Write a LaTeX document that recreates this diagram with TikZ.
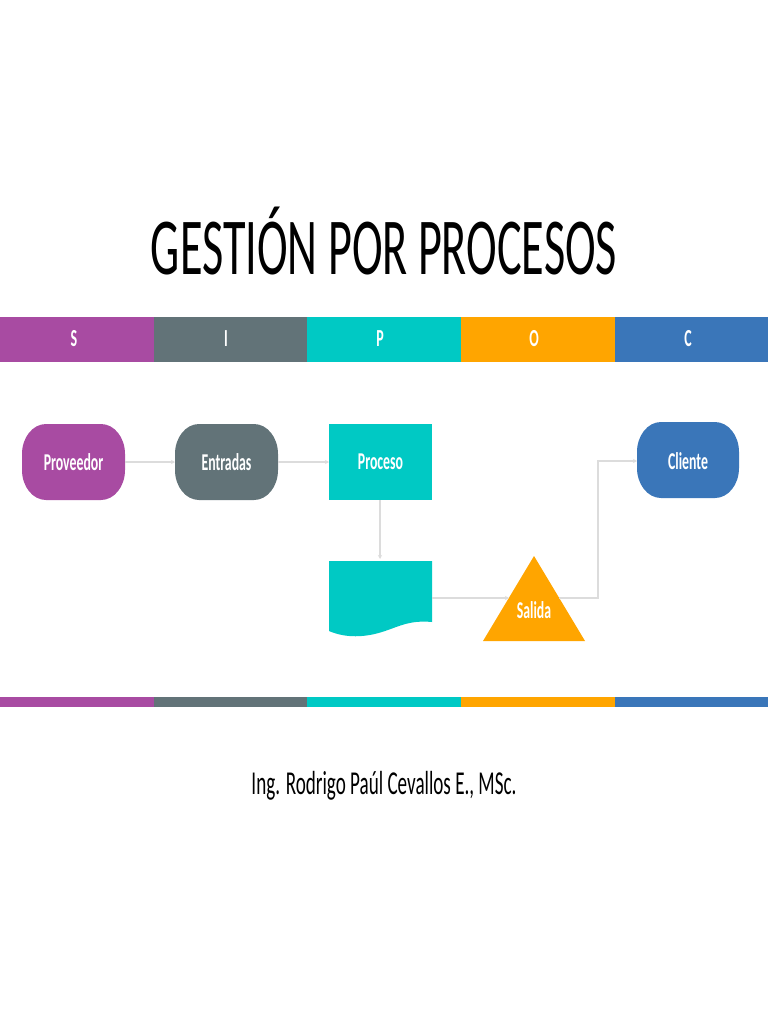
\documentclass[tikz,border=0pt]{standalone}
\usepackage{fontspec}
\setmainfont{Carlito}
\usetikzlibrary{arrows.meta}
\definecolor{cS}{HTML}{A84BA2}
\definecolor{cI}{HTML}{627378}
\definecolor{cP}{HTML}{00C9C4}
\definecolor{cO}{HTML}{FFA500}
\definecolor{cC}{HTML}{3A76B9}
\definecolor{lineg}{HTML}{DCDCDC}
\newcommand{\tall}[1]{\scalebox{1}[1.75]{#1}}
% elliptical-corner stadium: colour, x1, y1, x2, y2
\newcommand{\stadiumshape}[5]{%
  \fill[#1] ({#2+24},#3) -- ({#4-24},#3)
    .. controls ({#4-24+13.25},#3) and (#4,{#3+30-16.57}) .. (#4,{#3+30})
    -- (#4,{#5-30})
    .. controls (#4,{#5-30+16.57}) and ({#4-24+13.25},#5) .. ({#4-24},#5)
    -- ({#2+24},#5)
    .. controls ({#2+24-13.25},#5) and (#2,{#5-30+16.57}) .. (#2,{#5-30})
    -- (#2,{#3+30})
    .. controls (#2,{#3+30-16.57}) and ({#2+24-13.25},#3) .. cycle;}
\tikzset{
  lbl/.style={text=white, font=\fontsize{14}{14}\selectfont\bfseries},
  conn/.style={draw=lineg, line width=1.4pt, -{Stealth[length=4pt,width=4pt]}},
  nlabel/.style={text=white, inner sep=0pt, font=\fontsize{13.8}{14}\selectfont\bfseries},
}
\begin{document}
\begin{tikzpicture}[x=1pt,y=-1pt]
\useasboundingbox[fill=white] (0,0) rectangle (768,1024);
% title
\node[font=\fontsize{46.2}{46}\selectfont] (title) at (384,241) {\tall{GESTIÓN POR PROCESOS}};
% top band
\fill[cS] (0,317) rectangle (154,362);
\fill[cI] (154,317) rectangle (307,362);
\fill[cP] (307,317) rectangle (461,362);
\fill[cO] (461,317) rectangle (615,362);
\fill[cC] (615,317) rectangle (768,362);
\node[lbl] (bS) at (74,339) {\tall{S}};
\node[lbl] (bI) at (226,339) {\tall{I}};
\node[lbl] (bP) at (380,339) {\tall{P}};
\node[lbl] (bO) at (534,339) {\tall{O}};
\node[lbl] (bC) at (688,339) {\tall{C}};
% bottom band
\fill[cS] (0,697) rectangle (154,707);
\fill[cI] (154,697) rectangle (307,707);
\fill[cP] (307,697) rectangle (461,707);
\fill[cO] (461,697) rectangle (615,707);
\fill[cC] (615,697) rectangle (768,707);
% shapes
\stadiumshape{cS}{22}{424}{125}{500}
\stadiumshape{cI}{175}{424}{278}{500}
\fill[cP] (329,424) rectangle (432,500);
\stadiumshape{cC}{637}{422}{739}{498}
\node[nlabel] (prov) at (73.5,462) {\tall{Proveedor}};
\node[nlabel] (entr) at (226.5,462) {\tall{Entradas}};
\node[nlabel] (proc) at (380.5,462) {\tall{Proceso}};
\node[nlabel] (clie) at (688,461) {\tall{Cliente}};
\coordinate (provE) at (125,462);
\coordinate (entrW) at (175,462);
\coordinate (entrE) at (278,462);
\coordinate (procW) at (329,462);
\coordinate (procS) at (380,500);
\coordinate (docN) at (380,559);
\coordinate (docE) at (432,598);
\coordinate (salW) at (509,598);
\coordinate (salE) at (559,598);
\coordinate (bend1) at (598,598);
\coordinate (bend2) at (598,461);
\coordinate (clieW) at (637,461);
% document
\fill[cP] (329,561) -- (432,561) -- (432,622)
  .. controls (410,620) and (400,626) .. (385,631)
  .. controls (365,638) and (345,638) .. (329,631) -- cycle;
\node[inner sep=0pt] (doc) at (380,595) {};
% triangle
\fill[cO] (534,556) -- (585,641) -- (483,641) -- cycle;
\node[nlabel] (sal) at (534,610) {\tall{Salida}};
% connectors
\draw[conn] (provE) -- (entrW);
\draw[conn] (entrE) -- (procW);
\draw[conn] (procS) -- (docN);
\draw[conn] (docE) -- (salW);
\draw[conn] (salE) -- (bend1) -- (bend2) -- (clieW);
% subtitle
\node[font=\fontsize{19.1}{19}\selectfont] (sub) at (384,786) {\tall{Ing. Rodrigo Paúl Cevallos E., MSc.}};
\end{tikzpicture}
\end{document}
